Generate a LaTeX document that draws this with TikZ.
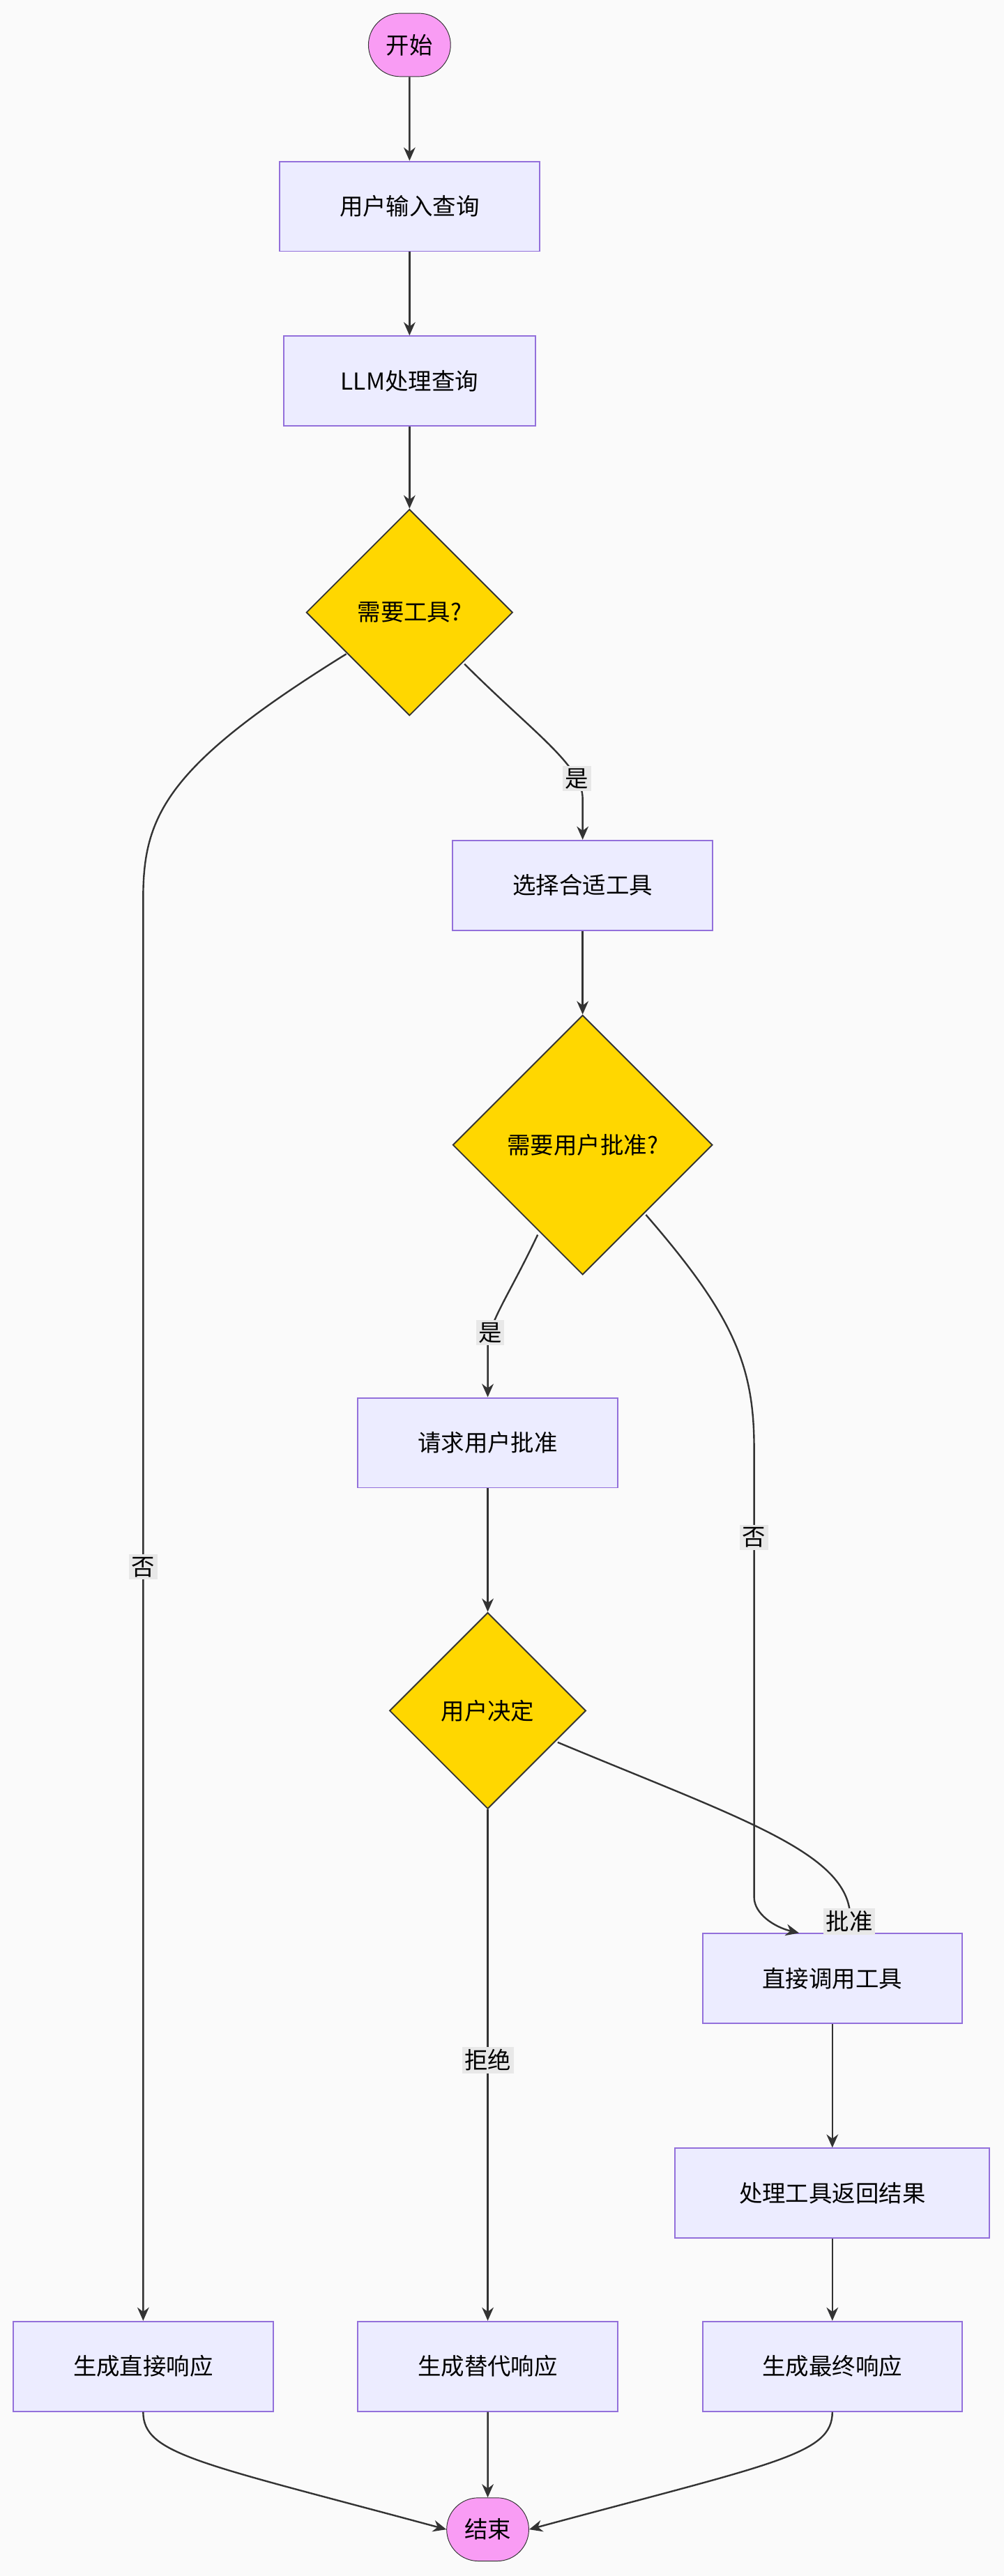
\documentclass[tikz,border=0pt]{standalone}
\usepackage{fontspec}
\setmainfont{Noto Sans CJK SC}
\usetikzlibrary{shapes.geometric,arrows.meta}
\definecolor{boxf}{HTML}{ECECFF}\definecolor{boxd}{HTML}{9370DB}
\definecolor{gold}{HTML}{FFD700}\definecolor{pinkf}{HTML}{F99CF4}
\definecolor{lab}{HTML}{E8E8E8}\definecolor{ln}{HTML}{333333}
\begin{document}
\begin{tikzpicture}[x=1pt,y=-1pt,font=\fontsize{14}{16}\selectfont,
 box/.style={draw=boxd,fill=boxf,minimum width=156pt,minimum height=54pt,line width=0.8pt},
 dia/.style={diamond,draw=ln,fill=gold,aspect=1,inner sep=0pt,line width=0.8pt},
 term/.style={rounded rectangle,draw=ln,fill=pinkf,minimum width=56pt,minimum height=38pt,line width=0.8pt},
 e/.style={draw=ln,line width=1pt,-{Stealth[length=8pt,width=7pt]}},
 lb/.style={fill=lab,inner sep=1.5pt}]
\usetikzlibrary{shapes.misc}
\fill[white!98!black] (0,0) rectangle (603,1548);
\useasboundingbox (0,0) rectangle (603,1548);
\node[rounded rectangle,draw=ln,fill=pinkf,minimum width=56pt,minimum height=38pt] (s) at (246,27) {开始};
\node[box] (a) at (246,124) {用户输入查询};
\node[box,minimum width=151pt] (b) at (246,229) {LLM处理查询};
\node[dia,minimum size=124pt] (c) at (246,368) {需要工具?};
\node[box] (d) at (350,532) {选择合适工具};
\node[dia,minimum size=156pt] (f) at (350,688) {需要用户批准?};
\node[box] (g) at (293,867) {请求用户批准};
\node[dia,minimum size=118pt] (h) at (293,1028) {用户决定};
\node[box] (i) at (500,1189) {直接调用工具};
\node[box,minimum width=189pt] (j) at (500,1318) {处理工具返回结果};
\node[box] (k) at (86,1422) {生成直接响应};
\node[box] (l) at (293,1422) {生成替代响应};
\node[box] (m) at (500,1422) {生成最终响应};
\node[rounded rectangle,draw=ln,fill=pinkf,minimum width=56pt,minimum height=38pt] (z) at (293,1520) {结束};
\coordinate (c1) at (208,393); \coordinate (c2) at (279,399);
\coordinate (f1) at (323,742); \coordinate (f2) at (388,730);
\coordinate (h1) at (335,1047);
\draw[e] (s)--(a); \draw[e] (a)--(b); \draw[e] (b.south)--(c.north);
\draw[e] (c1) .. controls (100,460) and (86,490) .. (86,540) -- node[lb,pos=0.47]{否} (k.north);
\draw[e] (c2) .. controls (320,440) and (350,460) .. (350,480) node[lb,pos=0.8]{是} -- (d.north);
\draw[e] (d)--(f.north);
\draw[e] (f1) .. controls (305,780) and (293,795) .. (293,810) node[lb,pos=0.8]{是} -- (g.north);
\draw[e] (f2) .. controls (440,790) and (453,820) .. (453,870) -- node[lb,pos=0.2]{否} (453,1140) .. controls (453,1150) and (465,1158) .. ([xshift=-20pt]i.north);
\draw[e] (g)--(h.north);
\draw[e] (h1) .. controls (450,1095) and (515,1115) .. node[lb,pos=0.95]{批准} ([xshift=10pt]i.north);
\draw[e] (h.south) -- node[lb,pos=0.49]{拒绝} (l.north);
\draw[e] (i)--(j); \draw[e] (j)--(m);
\draw[e] (k.south) .. controls (86,1475) and (120,1480) .. (z.west);
\draw[e] (l)--(z);
\draw[e] (m.south) .. controls (500,1475) and (466,1480) .. (z.east);
\end{tikzpicture}
\end{document}
